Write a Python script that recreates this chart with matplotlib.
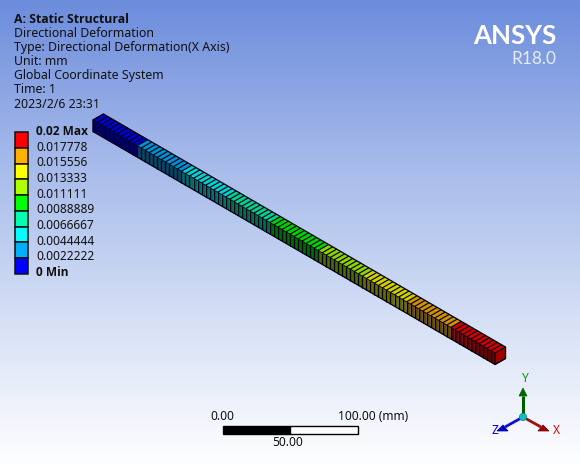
import numpy as np
import matplotlib
matplotlib.use('Agg')
import matplotlib.pyplot as plt
from matplotlib.collections import PolyCollection, LineCollection
from matplotlib.colors import LinearSegmentedColormap, to_rgb
from matplotlib.patches import Rectangle, Polygon, Circle

title_lines = ['Directional Deformation', 'Type: Directional Deformation(X Axis)', 'Unit: mm',
               'Global Coordinate System', 'Time: 1', '2023/2/6 23:31']
legend_labels = ['0.02 Max', '0.017778', '0.015556', '0.013333', '0.011111',
                 '0.0088889', '0.0066667', '0.0044444', '0.0022222', '0 Min']
band_colors = ['#ff0000', '#ffb000', '#ffff00', '#b0ff00', '#00ff00',
               '#00ffb0', '#00ffff', '#00b0ff', '#0000ff']
# elements in each contour band along the beam, fixed end first
band_elements = [11, 11, 11, 11, 12, 11, 11, 11, 11]

plt.rcParams['font.family'] = ['Noto Sans', 'DejaVu Sans']

fig = plt.figure(figsize=(5.8, 4.67), dpi=100)
ax = fig.add_axes([0, 0, 1, 1])
ax.set_xlim(0, 580)
ax.set_ylim(467, 0)
ax.axis('off')

# background
bg = LinearSegmentedColormap.from_list('bg', ['#6c8cdc', '#a4b9ea', '#d3def5', '#ffffff'])
ax.imshow(np.linspace(0, 1, 467).reshape(-1, 1), cmap=bg, extent=[0, 580, 467, 0], aspect='auto')

# header text
ax.text(14, 19.5, 'A: Static Structural', fontsize=8.8, fontweight='bold', va='center', color='#101010',
        family='Open Sans')
for i, line in enumerate(title_lines):
    ax.text(14, 33.5 + i * 14.1, line, fontsize=8.85, va='center', color='#101010')

# ansys logo
ax.text(556, 36, 'ANSYS', fontsize=18.6, color='white', ha='right', va='center', family='Lato', fontweight='bold')
ax.text(556, 58.5, 'R18.0', fontsize=12.4, color='#e6ecfa', ha='right', va='center', family='Lato')

# legend
sw_h = (274 - 132) / 9
for i, c in enumerate(band_colors):
    ax.add_patch(Rectangle((14.5, 132 + i * sw_h), 13.5, sw_h, fc=c, ec='#101010', lw=1.1))
for i, lab in enumerate(legend_labels):
    bold = i == 0 or i == len(legend_labels) - 1
    ax.text(36, 131.5 + i * 15.68, lab, fontsize=8.6, va='center', color='#101010',
            fontweight='bold' if bold else 'normal', family='Open Sans' if bold else None)

# beam, projected from element index / depth / height
origin = np.array([93.0, 120.0])
length_v = np.array([402.0, 233.0])
depth_v = np.array([10.5, -6.0])
height_v = np.array([0.0, 11.5])
n_elem = sum(band_elements)

def shade(c, f):
    return tuple(v * f for v in to_rgb(c))

elem_colors = []
for c, n in zip(band_colors[::-1], band_elements):
    elem_colors += [c] * n

top_polys = []
side_polys = []
top_lines = []
side_lines = []
for i in range(n_elem):
    a = origin + length_v * i / n_elem
    b = origin + length_v * (i + 1) / n_elem
    top_polys.append([a, b, b + depth_v, a + depth_v])
    side_polys.append([a, b, b + height_v, a + height_v])
    top_lines.append([a, a + depth_v])
    side_lines.append([a, a + height_v])

ax.add_collection(PolyCollection(top_polys, facecolors=[shade(c, 0.82) for c in elem_colors],
                                 edgecolors='none'))
ax.add_collection(PolyCollection(side_polys, facecolors=[shade(c, 0.42) for c in elem_colors],
                                 edgecolors='none'))
ax.add_collection(LineCollection(top_lines, colors='#000010', linewidths=0.85))
ax.add_collection(LineCollection(side_lines, colors='#000010', linewidths=0.95))

# outline of the beam
e = origin + length_v
ax.add_patch(Polygon([e, e + depth_v, e + depth_v + height_v, e + height_v],
                     fc=shade(elem_colors[-1], 0.62), ec='#000010', lw=0.8))
ax.add_patch(Polygon([origin, origin + depth_v, e + depth_v, e + depth_v + height_v,
                      e + height_v, origin + height_v], fc='none', ec='#000010', lw=0.9))
ax.plot([origin[0], e[0]], [origin[1], e[1]], color='#000010', lw=0.6)

# scale bar
ax.add_patch(Rectangle((222.5, 425.5), 67.5, 8.5, fc='black', ec='black', lw=1))
ax.add_patch(Rectangle((290, 425.5), 67.5, 8.5, fc='white', ec='black', lw=1))
ax.text(222, 417, '0.00', fontsize=8.6, ha='center', va='center', color='#101010')
ax.text(338, 417, '100.00 (mm)', fontsize=8.6, ha='left', va='center', color='#101010')
ax.text(288, 443, '50.00', fontsize=8.6, ha='center', va='center', color='#101010')

# triad
o = np.array([523.0, 417.0])
ax.plot([523, 523], [417, 396], color='#005a00', lw=2.2, solid_capstyle='butt')
ax.add_patch(Polygon([[523, 388], [527, 396], [519, 396]], fc='#006400', ec='#006400', lw=0.5))
ax.plot([523, 541], [417, 427], color='#a01010', lw=2, solid_capstyle='butt')
ax.add_patch(Polygon([[549, 431], [538, 431], [543, 425]], fc='#a00000', ec='#700000', lw=0.5))
ax.plot([523, 505], [417, 427], color='#1010d0', lw=2, solid_capstyle='butt')
ax.add_patch(Polygon([[497, 431], [508, 431], [503, 425]], fc='#0000d0', ec='#000090', lw=0.5))
ax.add_patch(Circle(o, 3.6, fc='#10c0c0', ec='#108080', lw=0.5, zorder=5))
ax.text(525, 379, 'Y', fontsize=8.6, ha='center', va='center', color='#00a000')
ax.text(556, 431, 'X', fontsize=8.6, ha='center', va='center', color='#f00000')
ax.text(495, 431, 'Z', fontsize=8.6, ha='center', va='center', color='#0000f0')

fig.savefig('out.png', dpi=100)
